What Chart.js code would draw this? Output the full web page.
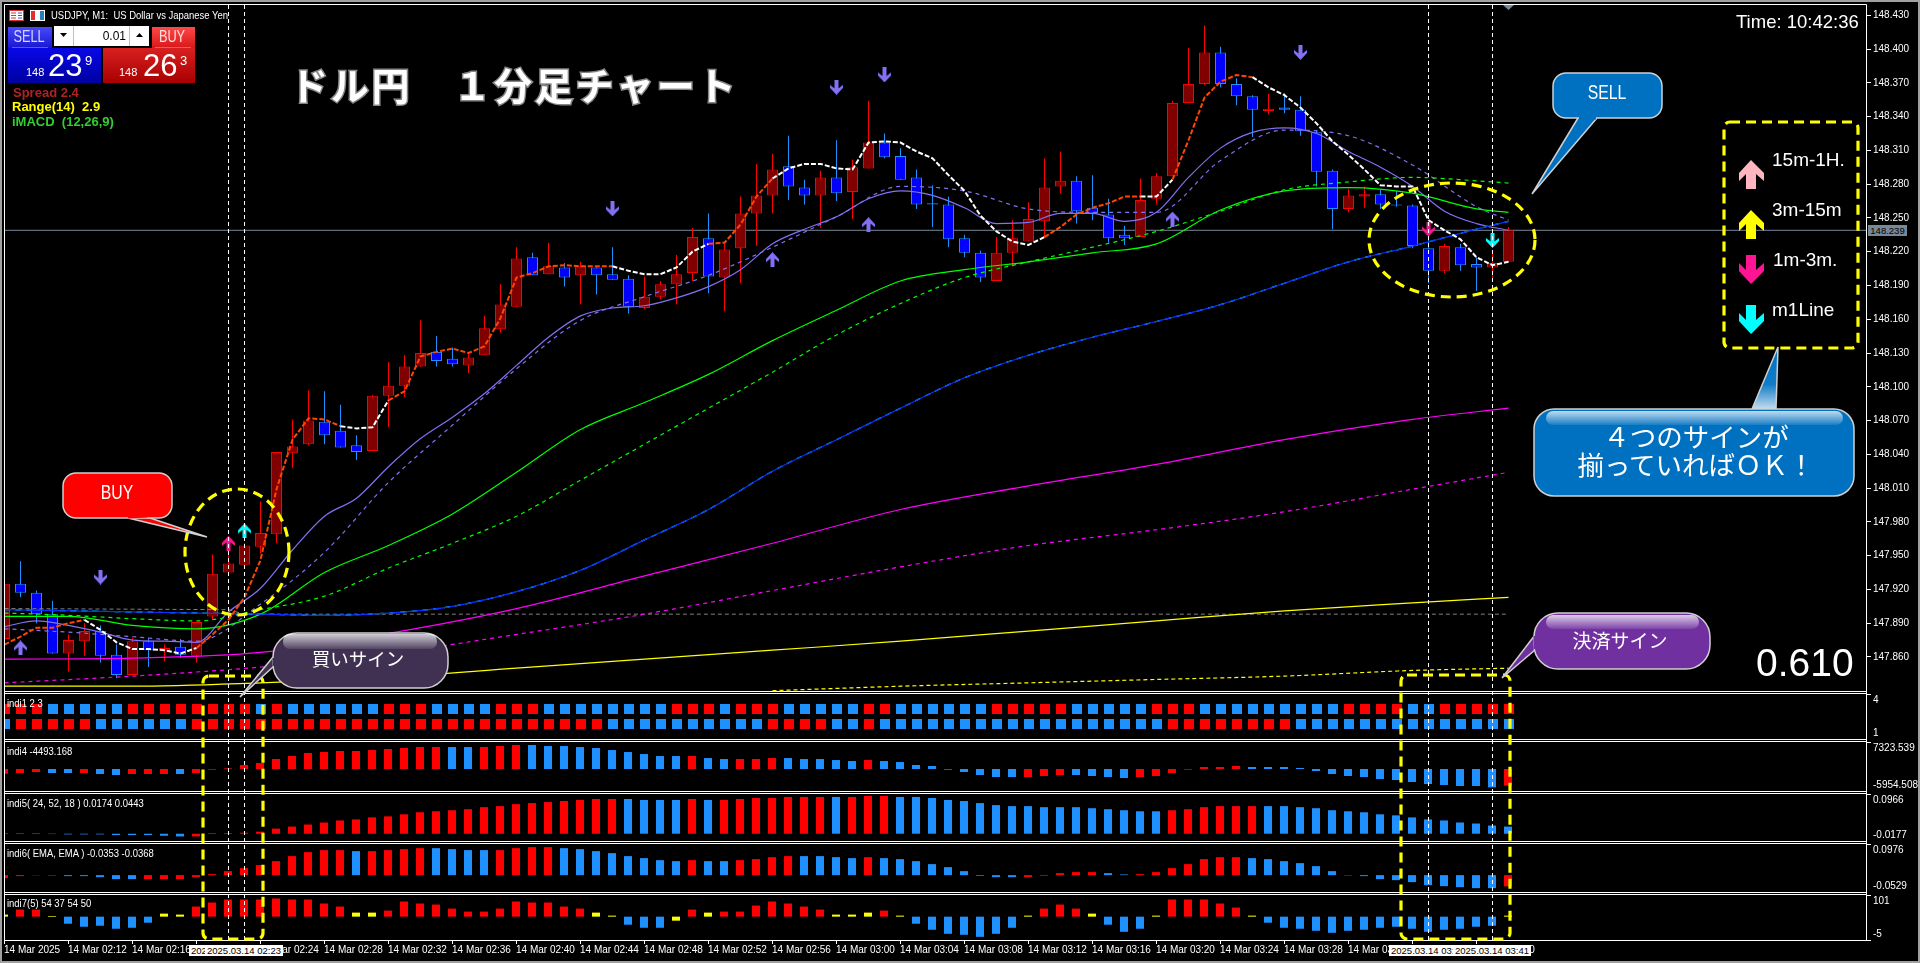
<!DOCTYPE html>
<html>
<head>
<meta charset="utf-8">
<script src="https://cdn.jsdelivr.net/npm/chart.js@4/dist/chart.umd.min.js"></script>
<style>
html, body { margin: 0; width: 1920px; height: 963px; background: #000; overflow: hidden; }
canvas { position: absolute; left: 4px; }
#frame { position: absolute; left: 0; top: 0; width: 1916px; height: 959px; border: 2px solid #a0a0a0; pointer-events: none; }
svg { position: absolute; left: 0; top: 0; }
.t { position: absolute; white-space: pre; color: #fff; font-family: "Liberation Sans", sans-serif; }
.tiny { font-size: 11px; line-height: 12px; transform: scaleX(.86); transform-origin: left center; }
.jp { font-family: "Noto Sans CJK JP", sans-serif; text-align: center; transform: translate(-50%, -50%); }
.c { transform: translate(-50%, -50%) scaleX(.75); text-align: center; }
.stamp { background: #fff; color: #000; top: 945px; height: 11px; line-height: 11px; width: 78px; text-align: center; font-size: 9.5px; }
</style>
</head>
<body>
<canvas id="main" width="1916" height="686" style="top:5px"></canvas>
<canvas id="p1" width="1916" height="45" style="top:694px"></canvas>
<canvas id="p2" width="1916" height="49" style="top:742px"></canvas>
<canvas id="p3" width="1916" height="47" style="top:794px"></canvas>
<canvas id="p4" width="1916" height="48" style="top:844px"></canvas>
<canvas id="p5" width="1916" height="67" style="top:895px"></canvas>

<svg width="1920" height="963">
  <defs>
    <linearGradient id="gloss" x1="0" y1="0" x2="0" y2="1">
      <stop offset="0" stop-color="#fff" stop-opacity="0.75"/>
      <stop offset="1" stop-color="#fff" stop-opacity="0.1"/>
    </linearGradient>
    <linearGradient id="tailFade" x1="0" y1="0" x2="0" y2="1">
      <stop offset="0" stop-color="#0070c0"/>
      <stop offset="0.6" stop-color="#0f7cc8"/>
      <stop offset="1" stop-color="#c4dcee"/>
    </linearGradient>
    <linearGradient id="sellTop" x1="0" y1="0" x2="0" y2="1"><stop offset="0" stop-color="#4848ff"/><stop offset="1" stop-color="#1818d0"/></linearGradient>
    <linearGradient id="buyTop" x1="0" y1="0" x2="0" y2="1"><stop offset="0" stop-color="#ff4848"/><stop offset="1" stop-color="#d81818"/></linearGradient>
    <linearGradient id="sellBig" x1="0" y1="0" x2="0" y2="1"><stop offset="0" stop-color="#0808e8"/><stop offset="1" stop-color="#0000a0"/></linearGradient>
    <linearGradient id="buyBig" x1="0" y1="0" x2="0" y2="1"><stop offset="0" stop-color="#d82020"/><stop offset="1" stop-color="#a80000"/></linearGradient>
  </defs>
  <!-- pane borders -->
  <g stroke="#fff" stroke-width="1">
    <path d="M4.5 4.5H1866.5V940.5H4.5Z" fill="none"/>
    <path d="M4 691.5H1866M4 693.5H1866M4 739.5H1866M4 741.5H1866M4 791.5H1866M4 793.5H1866M4 841.5H1866M4 843.5H1866M4 892.5H1866M4 894.5H1866"/>
  </g>
  <path d="M1503 5H1514L1508.5 10Z" fill="#778899"/>
  <!-- crosshairs -->
  <g stroke="#fff" stroke-width="1" stroke-dasharray="4 3">
    <path d="M228.5 5V940M244.5 5V940M1428.5 5V940M1492.5 5V940"/>
  </g>
  <!-- yellow marks -->
  <g fill="none" stroke="#ffff00" stroke-width="3.2" stroke-dasharray="10 6">
    <ellipse cx="237" cy="552" rx="52" ry="63"/>
    <ellipse cx="1452" cy="240" rx="83" ry="57"/>
    <rect x="203" y="676" width="60" height="263" rx="6"/>
    <rect x="1401" y="675" width="109" height="264" rx="6"/>
    <rect x="1724" y="122" width="134" height="226" rx="6"/>
  </g>
  <!-- legend arrows -->
  <polygon fill="#ffb6c1" points="1751,160 1764,173 1764,181 1756,174 1756,189 1746,189 1746,174 1739,181 1739,173"/>
  <polygon fill="#ffff00" points="1751,210 1764,223 1764,231 1756,224 1756,239 1746,239 1746,224 1739,231 1739,223"/>
  <polygon fill="#ff1493" points="1751,284 1764,271 1764,263 1756,270 1756,255 1746,255 1746,270 1739,263 1739,271"/>
  <polygon fill="#00ffff" points="1751,334 1764,321 1764,313 1756,320 1756,305 1746,305 1746,320 1739,313 1739,321"/>
  <!-- callouts -->
  <g stroke="#d0d0d0" stroke-width="1.5">
    <path d="M128 518L207 537L147 517" fill="#ff0000"/>
    <rect x="63" y="473" width="109" height="45" rx="13" fill="#ff0000"/>
    <path d="M128 517L147 516" stroke="#ff0000" stroke-width="3"/>
    <path d="M1578 118L1532 194L1597 118" fill="#0070c0"/>
    <rect x="1553" y="73" width="109" height="45" rx="13" fill="#0070c0"/>
    <path d="M1579 118H1596" stroke="#0070c0" stroke-width="3"/>
    <path d="M1752 409L1778 347L1776 409" fill="url(#tailFade)"/>
    <rect x="1534" y="409" width="320" height="87" rx="20" fill="#0070c0"/>
    <path d="M1535 635L1502 678L1535 650" fill="#7030a0"/>
    <rect x="1534" y="613" width="176" height="56" rx="24" fill="#7030a0"/>
    <path d="M1535 636V649" stroke="#7030a0" stroke-width="3"/>
    <path d="M273 657L240 697L273 667" fill="#403152"/>
    <rect x="273" y="633" width="175" height="55" rx="24" fill="#403152"/>
    <path d="M274 658V666" stroke="#403152" stroke-width="3"/>
  </g>
  <rect x="1546" y="411" width="297" height="14" rx="7" fill="url(#gloss)"/>
  <rect x="1546" y="615" width="153" height="14" rx="7" fill="url(#gloss)"/>
  <rect x="283" y="634" width="154" height="15" rx="7" fill="url(#gloss)"/>
  <!-- terminal widgets -->
  <g>
    <rect x="9.5" y="10.5" width="14" height="10" fill="#fff" stroke="#e03030"/>
    <path d="M11 13H16M11 15.5H16M11 18H16" stroke="#e03030"/>
    <path d="M18 13H22M18 15.5H22M18 18H22" stroke="#2060d0"/>
    <rect x="30" y="10" width="15" height="11" fill="#fff"/>
    <path d="M31 11H35V20H31Z" fill="#e03030"/>
    <path d="M40 11H44V20H40Z" fill="#2080c0"/>
  </g>
  <rect x="8" y="27" width="44" height="21" fill="url(#sellTop)"/>
  <path d="M12 48H48" stroke="#a0a0ff"/>
  <rect x="8" y="48" width="93" height="35" fill="url(#sellBig)"/>
  <rect x="152" y="27" width="43" height="21" fill="url(#buyTop)"/>
  <path d="M155 48H191" stroke="#ffa0a0"/>
  <rect x="103" y="48" width="92" height="35" fill="url(#buyBig)"/>
  <rect x="54" y="26" width="95" height="20" fill="#fff"/>
  <path d="M73.5 26V46M129.5 26V46" stroke="#c0c0c0"/>
  <path d="M60 33H67L63.5 37Z" fill="#000"/>
  <path d="M136 37H143L139.5 33Z" fill="#000"/>
</svg>
<div id="frame"></div>

<div class="t tiny" style="left:51px;top:9px;line-height:13px">USDJPY, M1:  US Dollar vs Japanese Yen</div>
<div class="t c" style="left:29px;top:37px;font-size:17px;color:#d8d8ff">SELL</div>
<div class="t c" style="left:172px;top:37px;font-size:17px;color:#ffe0e0">BUY</div>
<div class="t" style="left:100px;top:29px;width:26px;text-align:right;font-size:12px;line-height:14px;color:#000">0.01</div>
<div class="t" style="left:26px;top:66px;font-size:11px;line-height:13px">148</div>
<div class="t" style="left:48px;top:48px;font-size:31px;line-height:36px">23</div>
<div class="t" style="left:85px;top:53px;font-size:13px;line-height:15px">9</div>
<div class="t" style="left:119px;top:66px;font-size:11px;line-height:13px">148</div>
<div class="t" style="left:143px;top:48px;font-size:31px;line-height:36px">26</div>
<div class="t" style="left:180px;top:53px;font-size:13px;line-height:15px">3</div>
<div class="t" style="left:13px;top:86px;font-size:13px;line-height:14px;font-weight:bold;color:#b22222">Spread 2.4</div>
<div class="t" style="left:12px;top:100px;font-size:13px;line-height:14px;font-weight:bold;color:#ffff00">Range(14)  2.9</div>
<div class="t" style="left:12px;top:115px;font-size:13px;line-height:14px;font-weight:bold;color:#32cd32">iMACD  (12,26,9)</div>

<div class="t" style="left:290px;top:57px;font-size:38px;line-height:54px;letter-spacing:2.8px;font-weight:700;font-family:'Noto Sans CJK JP',sans-serif;-webkit-text-stroke:3px #858585;paint-order:stroke fill">ドル円　１分足チャート</div>

<div class="t" style="left:1736px;top:11px;font-size:18.5px;line-height:21px">Time: 10:42:36</div>
<div class="t" style="left:1756px;top:640px;font-size:39px;line-height:45px">0.610</div>
<div class="t" style="left:1772px;top:149px;font-size:19px;line-height:22px">15m-1H.</div>
<div class="t" style="left:1772px;top:199px;font-size:19px;line-height:22px">3m-15m</div>
<div class="t" style="left:1773px;top:249px;font-size:19px;line-height:22px">1m-3m.</div>
<div class="t" style="left:1772px;top:299px;font-size:19px;line-height:22px">m1Line</div>

<div class="t c" style="left:117px;top:492px;font-size:21px">BUY</div>
<div class="t c" style="left:1607px;top:92px;font-size:21px">SELL</div>
<div class="t jp" style="left:1696px;top:450px;font-size:26.5px;line-height:28px">４つのサインが
揃っていればＯＫ！</div>
<div class="t jp" style="left:1620px;top:639px;font-size:19px">決済サイン</div>
<div class="t jp" style="left:358px;top:658px;font-size:18.5px">買いサイン</div>

<div class="t tiny" style="left:7px;top:697px">indi1 2 3</div>
<div class="t tiny" style="left:7px;top:745px">indi4 -4493.168</div>
<div class="t tiny" style="left:7px;top:797px">indi5( 24, 52, 18 ) 0.0174 0.0443</div>
<div class="t tiny" style="left:7px;top:847px">indi6( EMA, EMA ) -0.0353 -0.0368</div>
<div class="t tiny" style="left:7px;top:897px">indi7(5) 54 37 54 50</div>

<div class="t" style="left:1868px;top:225px;width:39px;height:11px;line-height:11px;background:#778899;color:#000;text-align:center;font-size:9.5px">148.239</div>
<div class="t stamp" style="left:189px">2025.03.14 02:22</div>
<div class="t stamp" style="left:205px">2025.03.14 02:23</div>
<div class="t stamp" style="left:1389px">2025.03.14 03:37</div>
<div class="t stamp" style="left:1453px">2025.03.14 03:41</div>

<script>
// USDJPY M1 bars, index 0 = 02:08
const opens = [147.876,147.925,147.917,147.898,147.863,147.874,147.883,147.862,147.844,147.874,
  147.865,147.869,147.861,147.896,147.935,147.942,147.958,147.969,148.041,148.049,
  148.069,148.061,148.048,148.043,148.092,148.101,148.118,148.131,148.125,148.119,
  148.128,148.151,148.171,148.215,148.200,148.206,148.199,148.206,148.200,148.196,
  148.170,148.180,148.191,148.201,148.232,148.197,148.223,148.254,148.270,148.296,
  148.277,148.270,148.286,148.273,148.294,148.317,148.305,148.286,148.263,148.262,
  148.232,148.219,148.194,148.219,148.229,148.247,148.278,148.283,148.259,148.253,
  148.235,148.233,148.267,148.287,148.352,148.369,148.397,148.369,148.358,148.345,
  148.348,148.346,148.326,148.292,148.258,148.269,148.271,148.262,148.261,148.223,
  148.203,148.224,148.209,148.206,148.211];
const highs = [147.933,147.945,147.919,147.910,147.880,147.890,147.888,147.871,147.877,147.877,
  147.871,147.876,147.891,147.951,147.952,147.961,147.998,148.042,148.071,148.097,
  148.096,148.084,148.057,148.093,148.122,148.128,148.159,148.145,148.135,148.130,
  148.163,148.191,148.224,148.219,148.228,148.210,148.211,148.206,148.224,148.199,
  148.198,148.194,148.217,148.241,148.254,148.227,148.269,148.298,148.307,148.323,
  148.284,148.292,148.319,148.302,148.354,148.325,148.312,148.293,148.279,148.269,
  148.235,148.221,148.233,148.248,148.264,148.303,148.309,148.287,148.288,148.267,
  148.243,148.285,148.290,148.354,148.401,148.421,148.402,148.374,148.359,148.360,
  148.361,148.358,148.328,148.293,148.276,148.278,148.275,148.274,148.262,148.232,
  148.227,148.227,148.215,148.219,148.242];
const lows = [147.868,147.913,147.890,147.863,147.847,147.861,147.855,147.841,147.844,147.851,
  147.856,147.859,147.855,147.893,147.935,147.942,147.952,147.961,148.028,148.048,
  148.049,148.046,148.035,148.043,148.064,148.091,148.118,148.118,148.118,148.112,
  148.128,148.148,148.171,148.199,148.200,148.189,148.173,148.182,148.195,148.165,
  148.169,148.178,148.173,148.194,148.183,148.167,148.192,148.225,148.254,148.266,
  148.262,148.241,148.265,148.249,148.294,148.303,148.284,148.258,148.242,148.224,
  148.215,148.193,148.194,148.207,148.229,148.233,148.272,148.245,148.248,148.228,
  148.226,148.233,148.262,148.287,148.352,148.368,148.366,148.350,148.322,148.342,
  148.343,148.323,148.278,148.240,148.255,148.259,148.258,148.260,148.223,148.192,
  148.201,148.203,148.185,148.195,148.211];
const closes = [147.925,147.917,147.898,147.863,147.875,147.883,147.861,147.844,147.874,147.866,
  147.868,147.862,147.891,147.934,147.943,147.959,147.970,148.042,148.047,148.070,
  148.057,148.046,148.042,148.092,148.101,148.118,148.130,148.123,148.120,148.126,
  148.152,148.173,148.214,148.199,148.207,148.197,148.207,148.199,148.195,148.171,
  148.180,148.191,148.200,148.233,148.198,148.222,148.254,148.270,148.293,148.278,
  148.270,148.286,148.272,148.295,148.317,148.304,148.284,148.262,148.262,148.231,
  148.219,148.197,148.219,148.232,148.249,148.277,148.283,148.256,148.254,148.232,
  148.232,148.266,148.287,148.352,148.369,148.397,148.369,148.358,148.346,148.347,
  148.346,148.327,148.291,148.258,148.270,148.271,148.262,148.261,148.225,148.203,
  148.225,148.208,148.206,148.210,148.239];

const priceTicks = [148.43,148.40,148.37,148.34,148.31,148.28,148.25,148.22,148.19,148.16,148.13,
  148.10,148.07,148.04,148.01,147.98,147.95,147.92,147.89,147.86];
const bidPrice = 148.239;
const axisLabels = ["14 Mar 2025","14 Mar 02:12","14 Mar 02:16","14 Mar 02:20","14 Mar 02:24","14 Mar 02:28",
  "14 Mar 02:32","14 Mar 02:36","14 Mar 02:40","14 Mar 02:44","14 Mar 02:48","14 Mar 02:52","14 Mar 02:56",
  "14 Mar 03:00","14 Mar 03:04","14 Mar 03:08","14 Mar 03:12","14 Mar 03:16","14 Mar 03:20","14 Mar 03:24",
  "14 Mar 03:28","14 Mar 03:32","14 Mar 03:36","14 Mar 03:40"];

// fast average, one value per bar
const fastLine = [147.871,147.878,147.886,147.886,147.890,147.893,147.884,147.873,147.867,147.867,
  147.866,147.863,147.868,147.880,147.893,147.913,147.946,148.009,148.053,148.072,
  148.071,148.065,148.063,148.064,148.088,148.096,148.127,148.131,148.134,148.130,
  148.136,148.161,148.197,148.201,148.207,148.208,148.207,148.207,148.207,148.203,
  148.200,148.200,148.206,148.220,148.227,148.228,148.244,148.269,148.285,148.294,
  148.298,148.298,148.294,148.293,148.317,148.318,148.317,148.309,148.303,148.288,
  148.274,148.252,148.238,148.229,148.226,148.233,148.242,148.253,148.259,148.263,
  148.269,148.269,148.269,148.284,148.319,148.357,148.371,148.377,148.375,148.366,
  148.359,148.348,148.334,148.318,148.306,148.293,148.279,148.278,148.278,148.248,
  148.239,148.231,148.215,148.208,148.211];
const fastTrendRuns = "U5 D7 U9 D3 U14 D6 U4 D17 U6 D2 U5 D17";

const keysBy2 = [0,2,4,6,8,10,12,14,16,18,20,22,24,26,28,30,32,34,36,38,40,42,44,46,48,50,52,54,56,58,60,62,64,66,68,70,72,74,76,78,80,82,84,86,88,90,92,94];
const keysBy4 = [0,4,8,12,16,20,24,28,32,36,40,44,48,52,56,60,64,68,72,76,80,84,88,92,94];
const keysBy8 = [0,8,16,24,32,40,48,56,64,72,80,88,94];

const purpleLine = [147.887,147.892,147.888,147.882,147.875,147.874,147.873,147.900,147.921,147.955,147.985,148.001,
  148.029,148.054,148.073,148.094,148.119,148.144,148.163,148.170,148.172,148.179,148.189,148.204,
  148.227,148.240,148.251,148.267,148.274,148.270,148.259,148.245,148.246,148.254,148.254,148.247,
  148.255,148.286,148.312,148.326,148.330,148.325,148.309,148.295,148.278,148.256,148.245,148.239];
const purpleDash = [147.885,147.882,147.878,147.874,147.907,147.953,148.015,148.066,148.116,148.159,148.180,148.199,
  148.224,148.251,148.278,148.274,148.258,148.255,148.255,148.301,148.328,148.323,148.297,148.260,148.248];
const greenLine = [147.896,147.896,147.888,147.885,147.898,147.935,147.959,147.987,148.024,148.062,148.086,148.111,
  148.141,148.168,148.194,148.204,148.211,148.219,148.227,148.257,148.274,148.277,148.272,148.258,148.255];
const greenDash = [147.899,147.897,147.894,147.892,147.902,147.914,147.939,147.961,147.985,148.017,148.049,148.081,
  148.113,148.146,148.174,148.197,148.211,148.224,148.238,148.256,148.275,148.282,148.286,148.283,148.281];
const blueLine = [147.902,147.901,147.900,147.899,147.898,147.897,147.899,147.905,147.918,147.937,147.964,147.991,
  148.025,148.053,148.081,148.108,148.128,148.144,148.158,148.173,148.192,148.211,148.225,148.240,148.247];
const magentaLine = [147.858,147.859,147.864,147.881,147.903,147.932,147.961,147.991,148.012,148.031,148.053,148.071,148.081];
const magentaDash = [147.837,147.843,147.851,147.863,147.880,147.898,147.919,147.940,147.959,147.973,147.989,148.009,148.024];
const yellowLine = [147.834,147.834,147.837,147.842,147.850,147.858,147.866,147.874,147.883,147.892,147.901,147.908,147.913];
const yellowDashKeys = [48,56,64,72,80,88,94];
const yellowDash = [147.830,147.834,147.837,147.840,147.843,147.848,147.850];
const grayDashKeys = [0,14,15,94];
const grayDash = [147.903,147.902,147.898,147.898];

// signal arrows: bar index and price
const purpleUpBars = [1,48,54,73];
const purpleUpPrices = [147.868,148.213,148.244,148.249];
const purpleDownBars = [6,38,52,55,81];
const purpleDownPrices = [147.931,148.258,148.366,148.377,148.397];
const pinkUpBars = [14], pinkUpPrices = [147.961];
const cyanUpBars = [15], cyanUpPrices = [147.972];
const pinkDownBars = [89], pinkDownPrices = [148.240];
const cyanDownBars = [93], cyanDownPrices = [148.230];

// sub windows
const row1Value = 3, row2Value = 2;
const row1Runs = "R3 B5 R8 B1 R1 B6 R3 B4 R3 B8 R3 B1 R3 B5 R2 B6 R5 B5 R3 B9 R4 B2 R5";
const row2Runs = "B1 R5 B6 R26 B10 R4 B2 R1 B18 R8 B14";

const indi4 = [-1264,-1084,-813,-1084,-1084,-1084,-1355,-1625,-1355,-1355,
  -1355,-1355,-1084,-181,181,1084,1625,2709,3522,4334,
  4605,4876,4876,5147,5418,5689,5960,5960,5960,5960,
  5960,6231,6502,6502,6231,6231,5960,5689,5147,4605,
  4064,3522,3522,3522,2980,2709,2709,2709,2980,2980,
  2709,2709,2438,2167,2438,2167,1896,1084,813,-181,
  -813,-1625,-2167,-2167,-2167,-1896,-1625,-1625,-1896,-2167,
  -2438,-2167,-1896,-1084,-181,542,542,813,542,542,
  542,271,-542,-1355,-1896,-2167,-2709,-2980,-3522,-4064,
  -4334,-4605,-4605,-4967,-4493];
const indi4Runs = "R3 B2 R1 B2 R3 B1 R16 B2 R3 B10 R1 B2 R3 B5 R1 B9 R3 B4 R7 B16 R1";

const indi5 = [.0017,.0017,.0017,-.0008,-.0017,-.0017,-.0017,-.0033,-.0033,-.0033,
  -.0050,-.0066,-.0066,.0017,.0017,.0025,.0050,.0124,.0174,.0224,
  .0273,.0323,.0348,.0397,.0422,.0472,.0522,.0546,.0571,.0596,
  .0646,.0671,.0720,.0745,.0770,.0795,.0820,.0845,.0845,.0845,
  .0820,.0820,.0820,.0845,.0820,.0820,.0845,.0869,.0869,.0894,
  .0894,.0894,.0894,.0894,.0919,.0919,.0894,.0894,.0869,.0820,
  .0795,.0745,.0696,.0671,.0671,.0646,.0646,.0646,.0621,.0596,
  .0571,.0546,.0546,.0571,.0596,.0646,.0671,.0671,.0671,.0671,
  .0671,.0646,.0621,.0571,.0546,.0522,.0472,.0447,.0397,.0348,
  .0323,.0273,.0248,.0199,.0174];
const indi5Runs = "R3 B9 R27 B4 R1 B1 R7 B1 R3 B17 R6 B16";

const indi6 = [-.0094,-.0031,-.0010,-.0010,-.0031,-.0031,-.0063,-.0125,-.0125,-.0125,
  -.0125,-.0125,-.0063,.0031,.0125,.0219,.0314,.0439,.0596,.0721,
  .0784,.0784,.0752,.0752,.0784,.0815,.0846,.0846,.0815,.0784,
  .0784,.0784,.0846,.0878,.0878,.0846,.0815,.0752,.0690,.0596,
  .0533,.0470,.0439,.0470,.0439,.0439,.0470,.0502,.0564,.0596,
  .0596,.0596,.0564,.0533,.0564,.0533,.0502,.0439,.0345,.0251,
  .0125,-.0021,-.0063,-.0063,-.0063,-.0021,.0063,.0094,.0094,.0063,
  .0021,.0031,.0094,.0219,.0345,.0502,.0564,.0564,.0533,.0502,
  .0439,.0376,.0282,.0125,-.0010,-.0031,-.0125,-.0157,-.0219,-.0314,
  -.0345,-.0376,-.0408,-.0408,-.0353];
const indi6Runs = "R3 B6 R13 B1 R4 B4 R4 B8 R1 B2 R4 B4 R1 B9 R5 B2 R7 B16 R1";

const indi7 = [54.8,66.7,66.7,51.6,33.3,26.2,28.6,21.5,23.8,35.7,
  57.1,54.8,73.8,83.3,90.4,90.4,90.4,92.8,90.4,90.4,
  80.9,73.8,59.5,59.5,64.3,85.7,80.9,78.5,69,61.9,
  61.9,69,85.7,83.3,83.3,73.8,69,59.5,52.4,31,
  23.8,23.8,40.5,66.7,59.5,61.9,61.9,76.2,85.7,80.9,
  73.8,66.7,54.8,54.8,59.5,64.3,52.4,33.3,19.1,9.6,
  7.2,2.4,9.6,23.8,52.4,69,78.5,69,57.1,31,
  14.3,21.5,52.4,90.4,90.4,90.4,80.9,71.4,52.4,35.7,
  23.8,21.5,16.7,11.9,16.7,19.1,23.8,26.2,21.5,14.3,
  19.1,21.5,26.2,28.6,52.4];
const indi7Runs = "Y1 R2 Y1 B6 Y2 R10 Y2 R13 Y2 B3 Y1 R1 Y1 R7 Y3 R1 Y1 B7 Y1 R3 Y1 B3 Y1 R5 Y1 B15 Y1";
const indi7Mid = 50;

const RED = "#ff0000";
const DODGER = "#1e90ff";
const YELLOW = "#ffff00";
const ORANGE = "#ff4500";
const PURPLE = "#8270f5";
const GREEN = "#00ff00";
const MAGENTA = "#ff00ff";
const CYAN = "#00ffff";
const SLATE = "#778899";
const SUB_COLORS = { R: RED, B: DODGER, Y: YELLOW };

const PLOT_WIDTH = 1862;
const BAR_PX = 16;
const tickFont = { family: "'Liberation Sans',sans-serif", size: 10 };

const expandRuns = text => {
    let out = [];
    text.split(" ").forEach(run => {
        for (let i = 0; i < Number(run.slice(1)); i++) out.push(run[0]);
    });
    return out;
};

const xy = (keys, values) => keys.map((k, i) => ({ x: k, y: values[i] }));

const lineSet = (keys, values, color, extra) => Object.assign({
    type: "line",
    data: xy(keys, values),
    borderColor: color,
    borderWidth: 1.2,
    pointRadius: 0,
    tension: 0,
    order: 2
}, extra);

// sparse series, drawn smooth
const smoothSet = (keys, values, color, extra) =>
    lineSet(keys, values, color, Object.assign({ cubicInterpolationMode: "monotone" }, extra));

const arrowCanvas = (color, up) => {
    const c = document.createElement("canvas");
    c.width = 13;
    c.height = 15;
    const ctx = c.getContext("2d");
    const shape = [[6.5,0],[13,7],[13,10],[8.5,6.5],[8.5,15],[4.5,15],[4.5,6.5],[0,10],[0,7]];
    ctx.fillStyle = color;
    ctx.beginPath();
    shape.forEach(p => ctx.lineTo(p[0], up ? p[1] : 15 - p[1]));
    ctx.closePath();
    ctx.fill();
    return c;
};

const arrowSet = (bars, prices, color, up) => ({
    type: "line",
    showLine: false,
    data: xy(bars, prices),
    pointStyle: arrowCanvas(color, up),
    pointRadius: 7,
    order: 0
});

const yAxis = (min, max, ticks, label) => ({
    type: "linear",
    position: "right",
    min: min,
    max: max,
    border: { color: "#fff" },
    grid: { drawOnChartArea: false, drawTicks: true, tickLength: 5, tickColor: "#fff", offset: false },
    ticks: { color: "#fff", font: tickFont, padding: 2, autoSkip: false, callback: label },
    afterBuildTicks: s => { s.ticks = ticks.map(v => ({ value: v })); },
    afterFit: s => { s.width = 54; s.paddingTop = 0; s.paddingBottom = 0; }
});

const xAxis = (min, withLabels) => {
    const axis = {
        type: "linear",
        min: min,
        max: min + PLOT_WIDTH / BAR_PX,
        offset: false,
        display: withLabels,
        grid: { display: false, offset: false }
    };
    if (withLabels) {
        axis.border = { color: "#fff" };
        axis.grid = { drawOnChartArea: false, drawTicks: true, tickLength: 4, tickColor: "#fff", offset: false };
        axis.ticks = {
            color: "#fff", font: tickFont, padding: 0, align: "start",
            autoSkip: false, maxRotation: 0, minRotation: 0,
            callback: v => axisLabels[v / 4]
        };
        axis.afterBuildTicks = s => { s.ticks = axisLabels.map((_, i) => ({ value: i * 4 })); };
        axis.afterFit = s => { s.height = 22; s.paddingLeft = 0; s.paddingRight = 0; };
    }
    return axis;
};

const makeChart = (id, datasets, x, y) => new Chart(document.getElementById(id), {
    type: "bar",
    data: { datasets: datasets },
    options: {
        responsive: false,
        animation: false,
        devicePixelRatio: 1,
        events: [],
        layout: { padding: 0, autoPadding: false },
        plugins: { legend: { display: false }, tooltip: { enabled: false } },
        scales: { x: x, y: y }
    }
});

// main window
const bars = opens.map((_, i) => i);
const isUp = opens.map((o, i) => closes[i] >= o);
const fastTrend = expandRuns(fastTrendRuns);

const mainSets = [
    {
        data: bars.map(i => ({ x: i, y: [lows[i], highs[i]] })),
        backgroundColor: isUp.map(u => u ? RED : DODGER),
        barThickness: 1, borderWidth: 0, inflateAmount: 0, grouped: false, order: 6
    },
    {
        data: bars.map(i => ({ x: i, y: [opens[i], closes[i]] })),
        backgroundColor: isUp.map(u => u ? "#800000" : "#0000ff"),
        borderColor: isUp.map(u => u ? RED : DODGER),
        barThickness: 11, borderWidth: 1, borderSkipped: false, inflateAmount: 0, grouped: false, order: 5
    },
    lineSet([-1, 120], [bidPrice, bidPrice], SLATE, { order: 7, borderWidth: 1 }),
    lineSet(grayDashKeys, grayDash, "#808080", { borderWidth: 1, borderDash: [4, 3], order: 4 }),
    smoothSet(keysBy8, yellowLine, YELLOW),
    smoothSet(yellowDashKeys, yellowDash, YELLOW, { borderDash: [4, 3] }),
    smoothSet(keysBy8, magentaLine, MAGENTA),
    smoothSet(keysBy8, magentaDash, MAGENTA, { borderDash: [4, 4] }),
    smoothSet(keysBy4, blueLine, "#0a30ff"),
    smoothSet(keysBy4, blueLine, CYAN, { borderDash: [6, 5] }),
    smoothSet(keysBy4, greenLine, GREEN),
    smoothSet(keysBy4, greenDash, GREEN, { borderDash: [4, 4] }),
    smoothSet(keysBy2, purpleLine, PURPLE),
    smoothSet(keysBy4, purpleDash, PURPLE, { borderDash: [4, 4] }),
    lineSet(bars, fastLine, "#fff", {
        borderWidth: 2,
        borderDash: [5, 2],
        order: 1,
        segment: { borderColor: ctx => fastTrend[ctx.p0DataIndex] === "U" ? ORANGE : "#fff" }
    }),
    arrowSet(purpleUpBars, purpleUpPrices, PURPLE, true),
    arrowSet(purpleDownBars, purpleDownPrices, PURPLE, false),
    arrowSet(pinkUpBars, pinkUpPrices, "#ff1493", true),
    arrowSet(cyanUpBars, cyanUpPrices, CYAN, true),
    arrowSet(pinkDownBars, pinkDownPrices, "#ff1493", false),
    arrowSet(cyanDownBars, cyanDownPrices, CYAN, false)
];

makeChart("main", mainSets, xAxis(-1 / 32, false),
    yAxis(147.82975, 148.43915, priceTicks, v => v.toFixed(3)));

// sub windows
const paneLabel = (top, bottom, topText, bottomText) => v => v === top ? ["", topText] : [bottomText, ""];

const rowSet = (value, runs) => ({
    type: "line",
    showLine: false,
    data: bars.map(i => ({ x: i, y: value })),
    pointStyle: "rect",
    pointRadius: 7.07,
    pointBorderWidth: 0,
    pointBackgroundColor: expandRuns(runs).map(c => SUB_COLORS[c])
});

makeChart("p1", [rowSet(row1Value, row1Runs), rowSet(row2Value, row2Runs)], xAxis(-1 / 16, false),
    yAxis(1, 4, [4, 1], paneLabel(4, 1, "4", "1")));

const histSet = (values, runs, base) => ({
    data: values.map((v, i) => ({ x: i, y: v })),
    backgroundColor: expandRuns(runs).map(c => SUB_COLORS[c]),
    barThickness: 8,
    borderWidth: 0,
    inflateAmount: 0,
    base: base
});

makeChart("p2", [histSet(indi4, indi4Runs, 0)], xAxis(0, false),
    yAxis(-5954.508, 7323.539, [7323.539, -5954.508], paneLabel(7323.539, -5954.508, "7323.539", "-5954.508")));
makeChart("p3", [histSet(indi5, indi5Runs, 0)], xAxis(0, false),
    yAxis(-0.0177, 0.0966, [0.0966, -0.0177], paneLabel(0.0966, -0.0177, "0.0966", "-0.0177")));
makeChart("p4", [histSet(indi6, indi6Runs, 0)], xAxis(0, false),
    yAxis(-0.0529, 0.0976, [0.0976, -0.0529], paneLabel(0.0976, -0.0529, "0.0976", "-0.0529")));
makeChart("p5", [histSet(indi7, indi7Runs, indi7Mid)], xAxis(0, true),
    yAxis(-5, 101, [101, -5], paneLabel(101, -5, "101", "-5")));
</script>
</body>
</html>
